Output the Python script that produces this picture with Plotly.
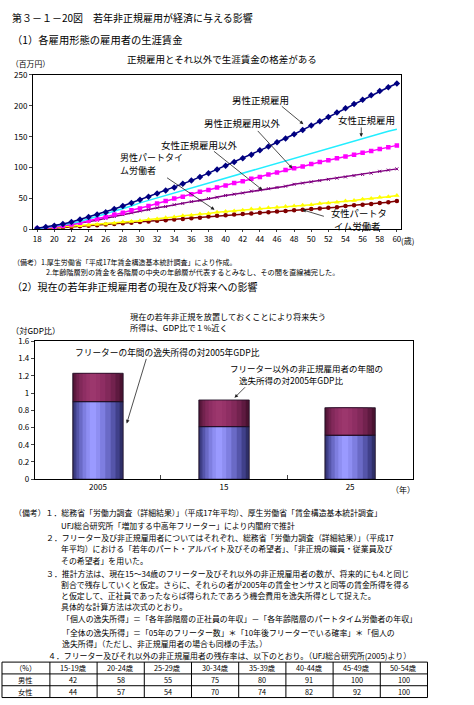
import plotly.graph_objects as go

W, H = 474, 705
FONT = "Noto Sans CJK JP"

# ---------------- data: (1) lifetime wages ----------------
ages = list(range(18, 61))
age_ticks = list(range(18, 61, 2))
age_ticktext = [str(a) for a in age_ticks]

male_regular = [2, 4, 6, 9, 12, 16, 20, 24, 28, 33, 38, 43, 48, 53, 58, 63, 68, 74, 79, 85, 91, 97,
                103, 109, 115, 121, 128, 134, 141, 147, 154, 161, 168, 175, 182, 189, 196, 203, 210,
                217, 224, 230, 236]
female_regular = [1, 3, 5, 7, 10, 13, 17, 21, 25, 29, 34, 38, 43, 47, 51, 55, 59, 63, 67, 71, 75, 79,
                  83, 87, 91, 95, 99, 103, 107, 111, 115, 119, 123, 127, 131, 135, 139, 143, 147,
                  151, 155, 159, 162]
male_nonregular = [1, 2, 4, 6, 8, 11, 14, 17, 20, 24, 27, 31, 34, 38, 42, 46, 50, 53, 57, 61, 64, 68,
                   71, 75, 78, 82, 85, 89, 92, 96, 99, 102, 106, 109, 112, 115, 118, 121, 124, 127,
                   130, 133, 136]
female_nonregular = [1, 2, 4, 6, 8, 10, 13, 15, 18, 21, 24, 27, 30, 32, 35, 37, 40, 42, 45, 47, 50,
                     52, 55, 57, 59, 62, 64, 66, 68, 70, 73, 75, 77, 79, 81, 83, 85, 87, 89, 91, 94,
                     96, 98]
male_parttime = [1, 2, 3, 4, 5, 6, 7, 8, 9, 10, 12, 13, 14, 16, 17, 19, 20, 22, 23, 25, 26, 28, 29,
                 30, 31, 33, 34, 35, 36, 37, 38, 39, 40, 42, 43, 44, 46, 47, 49, 50, 52, 53, 55]
female_parttime = [0, 1, 2, 3, 4, 5, 6, 7, 8, 9, 10, 11, 12, 13, 14, 15, 16, 17, 18, 19, 21, 22, 23,
                   24, 25, 26, 27, 28, 29, 30, 31, 32, 33, 34, 35, 36, 38, 39, 40, 41, 43, 44, 46]

# ---------------- data: (2) lost income (% of GDP) ----------------
years = ["2005", "15", "25"]
freeter_loss = [0.90, 0.61, 0.51]
other_nonregular_loss = [0.33, 0.31, 0.32]

# ---------------- data: survival-rate table ----------------
rate_header = ["（%）", "15-19歳", "20-24歳", "25-29歳", "30-34歳", "35-39歳", "40-44歳", "45-49歳", "50-54歳"]
rate_rows = ["男性", "女性"]
male_rates = [42, 58, 55, 75, 80, 91, 100, 100]
female_rates = [44, 57, 54, 70, 74, 82, 92, 100]


def px(x):
    return x / W


def py(y):
    return 1 - y / H


fig = go.Figure()

# ---------------- line chart ----------------
series = [
    ("女性パートタイム労働者", female_parttime, "#800000", "circle", 4.5, 1.5),
    ("男性パートタイム労働者", male_parttime, "#ffff00", "triangle-up", 5, 1.5),
    ("女性正規雇用以外", female_nonregular, "#800080", "x-thin", 3, 1.5),
    ("男性正規雇用以外", male_nonregular, "#ff00ff", "square", 4.5, 1.5),
    ("女性正規雇用", female_regular, "#22eeff", None, 0, 1.5),
    ("男性正規雇用", male_regular, "#000080", "diamond", 5, 1.5),
]
for name, vals, col, sym, size, lw in series:
    if sym is None:
        fig.add_trace(go.Scatter(x=ages, y=vals, name=name, mode="lines",
                                 line=dict(color=col, width=lw), xaxis="x", yaxis="y"))
    else:
        mk = dict(color=col, symbol=sym, size=size)
        if sym == "x-thin":
            mk["line"] = dict(color=col, width=1)
        fig.add_trace(go.Scatter(x=ages, y=vals, name=name, mode="lines+markers",
                                 line=dict(color=col, width=lw), marker=mk,
                                 xaxis="x", yaxis="y"))

# ---------------- bar chart with cylinder-like shading ----------------
blue_layers = [(0.40, 0.0, "#2f2f68"), (0.36, -0.008, "#40408a"), (0.31, -0.016, "#5555aa"),
               (0.25, -0.024, "#6a6ac6"), (0.18, -0.032, "#7e7ee0"), (0.11, -0.038, "#8e8ef2"),
               (0.05, -0.04, "#9a9aff")]
red_layers = [(0.40, 0.0, "#4a1230"), (0.36, -0.008, "#5e1a40"), (0.31, -0.016, "#72224e"),
              (0.25, -0.024, "#82295a"), (0.18, -0.032, "#8e2e63"), (0.11, -0.038, "#973369"),
              (0.05, -0.04, "#9c376d")]
blue_base = [0] * len(years)
for w, c, col in blue_layers:
    fig.add_trace(go.Bar(x=years, y=freeter_loss, base=blue_base, width=w, offset=c - w / 2,
                         marker=dict(color=col, line=dict(width=0)), showlegend=False,
                         xaxis="x2", yaxis="y2", opacity=1))
for w, c, col in red_layers:
    fig.add_trace(go.Bar(x=years, y=other_nonregular_loss, base=freeter_loss, width=w,
                         offset=c - w / 2, marker=dict(color=col, line=dict(width=0)),
                         showlegend=False, xaxis="x2", yaxis="y2", opacity=1))
fig.add_trace(go.Bar(x=years, y=freeter_loss, base=blue_base, width=0.4, offset=-0.2,
                     marker=dict(color="rgba(0,0,0,0)", line=dict(color="#1c0d22", width=0.8)),
                     showlegend=False, xaxis="x2", yaxis="y2"))
fig.add_trace(go.Bar(x=years, y=other_nonregular_loss, base=freeter_loss, width=0.4, offset=-0.2,
                     marker=dict(color="rgba(0,0,0,0)", line=dict(color="#1c0d22", width=0.8)),
                     showlegend=False, xaxis="x2", yaxis="y2"))

axis_common = dict(showline=True, linecolor="black", linewidth=1, mirror=True,
                   showgrid=False, zeroline=False,
                   tickfont=dict(family=FONT, size=8, color="black"))

fig.update_layout(
    width=W, height=H, margin=dict(l=0, r=0, t=0, b=0),
    paper_bgcolor="white", plot_bgcolor="white", showlegend=False,
    barmode="overlay",
    font=dict(family=FONT, color="black"),
    xaxis=dict(domain=[px(33), px(402)], range=[17.5, 60.5], tickvals=age_ticks,
               ticktext=age_ticktext, ticks="outside", ticklen=2, anchor="y", **axis_common),
    yaxis=dict(domain=[py(227), py(70)], range=[0, 250], dtick=50, ticks="outside",
               ticklen=3, anchor="x", **axis_common),
    xaxis2=dict(domain=[px(35), px(414)], type="category", range=[-0.5, 2.5],
                tickson="boundaries", ticks="inside", ticklen=4, anchor="y2", **axis_common),
    yaxis2=dict(domain=[py(480.7), py(340.7)], range=[0, 1.6], dtick=0.2, ticks="outside",
                ticklen=3, anchor="x2", **axis_common),
)

ann = []
shapes = []


def text(x, y, s, size, anchor="left"):
    ann.append(dict(x=px(x), y=py(y), xref="paper", yref="paper", text=s, showarrow=False,
                    xanchor=anchor, yanchor="middle", align="left",
                    font=dict(family=FONT, size=size, color="black")))


def arrow(tx, ty, hx, hy):
    ann.append(dict(x=px(hx), y=py(hy), xref="paper", yref="paper", text="", showarrow=True,
                    ax=tx - hx, ay=ty - hy, arrowhead=2, arrowsize=0.9, arrowwidth=0.8,
                    arrowcolor="#222222", standoff=0, startstandoff=0))


text(10, 12, "第３－１－20図　若年非正規雇用が経済に与える影響", 10)
text(10, 34, "（1）各雇用形態の雇用者の生涯賃金", 10.3)
text(222, 54, "正規雇用とそれ以外で生涯賃金の格差がある", 9.5, anchor="center")
text(9, 58, "（百万円）", 7.8)
text(400, 238, "(歳)", 8)

text(230, 95, "男性正規雇用", 9.5)
text(337, 116, "女性正規雇用", 9.5)
text(202, 119, "男性正規雇用以外", 9.5)
text(159, 141, "女性正規雇用以外", 9.5)
text(118, 153.5, "男性パートタイ", 9)
text(118, 167.5, "ム労働者", 9)
text(330, 210, "女性パートタ", 9.3)
text(333, 223, "イム労働者", 9.3)
arrow(281, 101, 304, 120)
arrow(362, 122, 362, 133)
arrow(257, 126, 293, 165)
arrow(213, 147, 263, 187)
arrow(166, 174, 215, 207)
arrow(326, 214, 303, 207)

text(11, 260, "（備考）1.厚生労働省「平成17年賃金構造基本統計調査」により作成。", 7)
text(44, 270, "2.年齢階層別の賃金を各階層の中央の年齢層が代表するとみなし、その間を直線補完した。", 7.2)

text(10, 285, "（2）現在の若年非正規雇用者の現在及び将来への影響", 10)
text(128, 320, "現在の若年非正規を放置しておくことにより将来失う<br>所得は、GDP比で１%近く", 8.2)
text(9, 329, "（対GDP比）", 8.2)
text(73, 352, "フリーターの年間の逸失所得の対2005年GDP比", 8.7)
text(228, 368, "フリーター以外の非正規雇用者の年間の", 8.5)
text(238, 380, "逸失所得の対2005年GDP比", 8.5)
text(390, 491, "（年）", 8)
arrow(147, 358, 127, 424)
arrow(247, 386, 235, 398)

notes = [
    (12, 515, "（備考）１．総務省「労働力調査（詳細結果）」（平成17年平均）、厚生労働省「賃金構造基本統計調査」"),
    (59, 528, "UFJ総合研究所「増加する中高年フリーター」により内閣府で推計"),
    (44, 540, "２．フリーター及び非正規雇用者についてはそれぞれ、総務省「労働力調査（詳細結果）」（平成17"),
    (59, 551.5, "年平均）における「若年のパート・アルバイト及びその希望者」、「非正規の職員・従業員及び"),
    (59, 563, "その希望者」を用いた。"),
    (44, 576, "３．推計方法は、現在15～34歳のフリーター及びそれ以外の非正規雇用者の数が、将来的にも4.と同じ"),
    (59, 587.5, "割合で残存していくと仮定。さらに、それらの者が2005年の賃金センサスと同等の賃金所得を得る"),
    (59, 599, "と仮定して、正社員であったならば得られたであろう機会費用を逸失所得として捉えた。"),
    (59, 610.5, "具体的な計算方法は次式のとおり。"),
    (60, 622.5, "「個人の逸失所得」＝「各年齢階層の正社員の年収」－「各年齢階層のパートタイム労働者の年収」"),
    (60, 636.5, "「全体の逸失所得」＝「05年のフリーター数」＊「10年後フリーターでいる確率」＊「個人の"),
    (60, 648, "逸失所得」（ただし、非正規雇用者の場合も同様の手法。）"),
    (46, 659.5, "４．フリーター及びそれ以外の非正規雇用者の残存率は、以下のとおり。（UFJ総合研究所(2005)より）"),
]
for x, y, s in notes:
    text(x, y, s, 7.9)

# ---------------- table (grid + cell text from the data lists) ----------------
col_edges = [2, 50] + [50 + 47.3 * (i + 1) for i in range(8)]
row_edges = [666.5, 678.5, 690.5, 702.5]
for yy in row_edges:
    shapes.append(dict(type="line", xref="paper", yref="paper", x0=px(col_edges[0]),
                       x1=px(col_edges[-1]), y0=py(yy), y1=py(yy),
                       line=dict(color="black", width=1)))
for xx in col_edges:
    shapes.append(dict(type="line", xref="paper", yref="paper", x0=px(xx), x1=px(xx),
                       y0=py(row_edges[0]), y1=py(row_edges[-1]),
                       line=dict(color="black", width=1)))
table_rows = [rate_header,
              [rate_rows[0]] + [str(v) for v in male_rates],
              [rate_rows[1]] + [str(v) for v in female_rates]]
for r, row in enumerate(table_rows):
    yc = (row_edges[r] + row_edges[r + 1]) / 2
    for c, val in enumerate(row):
        xc = (col_edges[c] + col_edges[c + 1]) / 2
        text(xc, yc, val, 7.3, anchor="center")

fig.update_layout(annotations=ann, shapes=shapes)

fig.write_html("out.html", config={"displayModeBar": False},
               post_script="document.body.style.margin='0';document.body.style.overflow='hidden';")
